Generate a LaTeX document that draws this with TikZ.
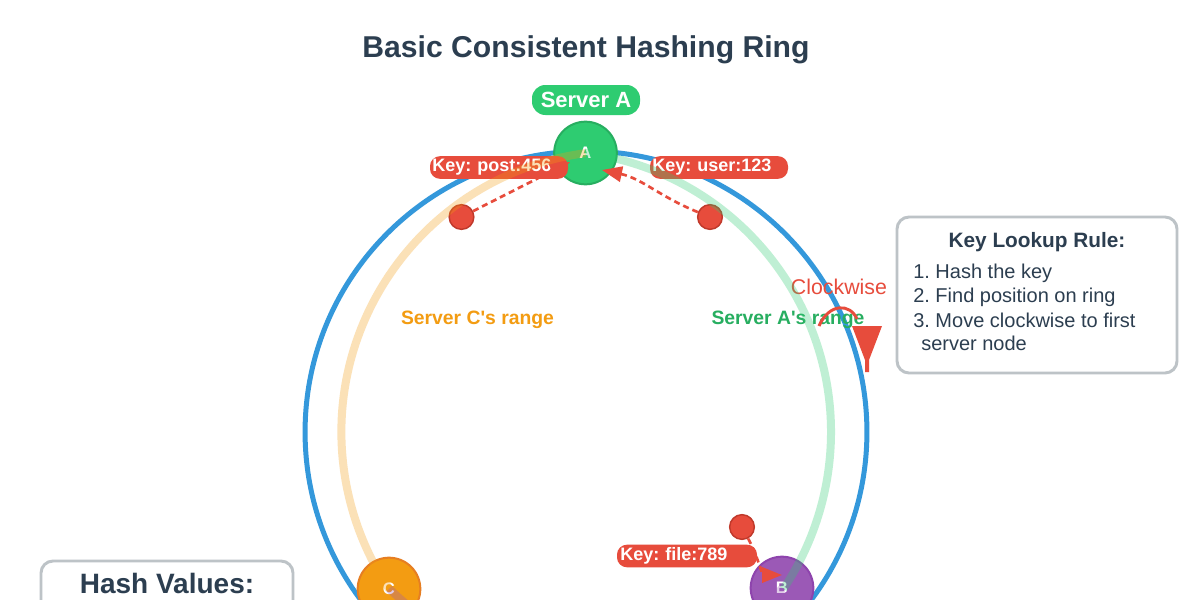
\documentclass[tikz,border=0pt]{standalone}
\usepackage{fontspec}
\setmainfont{Liberation Sans}
\usetikzlibrary{arrows.meta,calc}
\definecolor{ringblue}{HTML}{3498DB}
\definecolor{sgreen}{HTML}{2ECC71}
\definecolor{sgreend}{HTML}{27AE60}
\definecolor{spurple}{HTML}{9B59B6}
\definecolor{spurpled}{HTML}{8E44AD}
\definecolor{sorange}{HTML}{F39C12}
\definecolor{sorangedk}{HTML}{E67E22}
\definecolor{kred}{HTML}{E74C3C}
\definecolor{kredd}{HTML}{C0392B}
\definecolor{ink}{HTML}{2C3E50}
\definecolor{boxgray}{HTML}{BDC3C7}
\frenchspacing
\tikzset{
  server/.style={circle, minimum size=47pt, inner sep=0pt, line width=1.5pt, text=white,
    font=\bfseries\fontsize{12.5}{14}\selectfont},
  keydot/.style={circle, minimum size=18.5pt, inner sep=0pt, fill=kred, draw=kredd, line width=1.1pt},
  keypill/.style={rectangle, rounded corners=7.5pt, fill=kred, minimum height=17pt,
    text width=100pt, inner xsep=1.5pt, inner ysep=0pt, align=left, text=white,
    font=\bfseries\fontsize{13.5}{15}\selectfont},
  keyarrow/.style={draw=kred, line width=2pt, dash pattern=on 4.5pt off 3pt,
    -{Triangle[length=15pt,width=11.5pt]}},
  rangearc/.style={line width=6pt, draw opacity=0.3},
  infobox/.style={rectangle, rounded corners=9pt, draw=boxgray, line width=2.2pt, fill=white},
  listtext/.style={anchor=west, inner sep=0pt, text=ink, font=\fontsize{15}{17}\selectfont},
  rangelabel/.style={font=\bfseries\fontsize{14.5}{16}\selectfont},
}
\begin{document}
\begin{tikzpicture}[x=0.75pt,y=-0.75pt]
\useasboundingbox (0,0) rectangle (1200,600);
\clip (0,0) rectangle (1200,600);
\fill[white] (0,0) rectangle (1200,600);

% title
\node[text=ink, font=\bfseries\fontsize{22.6}{27}\selectfont] (title) at (586,50) {Basic Consistent Hashing Ring};

% ring
\draw[ringblue, line width=3.75pt] (586,432) circle[radius=210.7pt];

% servers
\node[server, fill=sgreen, draw=sgreend] (A) at (585.5,153) {A};
\node[server, fill=spurple, draw=spurpled] (B) at (782,588) {B};
\node[server, fill=sorange, draw=sorangedk] (C) at (389,589) {C};
\node[rectangle, rounded corners=10pt, fill=sgreen, minimum width=81pt, minimum height=22.5pt,
  inner sep=0pt, text=white, font=\bfseries\fontsize{16.5}{19}\selectfont] (labA) at (586,100) {Server A};

% key dots
\node[keydot] (k1) at (461.5,217) {};
\node[keydot] (k2) at (710,217) {};
\node[keydot] (k3) at (742,527) {};

% key labels
\node[keypill, minimum width=103.5pt] (p1) at (499,167.5) {Key: post:456};
\node[keypill, minimum width=103.5pt] (p2) at (719,167.5) {Key: user:123};
\node[keypill, minimum width=105pt] (p3) at (687,556) {Key: file:789};

% key arrows
\coordinate (t1) at (570,162);
\coordinate (t2) at (602,170);
\coordinate (t3) at (782,575);
\draw[keyarrow] (k1) -- (t1);
\draw[keyarrow] (k2) to[out=158,in=-12] (t2);
\draw[keyarrow] (k3) to[out=-62,in=180] (t3);

% range labels
\node[rangelabel, text=sorange] (crange) at (477.5,320) {Server C\textquotesingle s range};
\node[rangelabel, text=sgreend] (arange) at (788,320) {Server A\textquotesingle s range};

% clockwise indicator
\node[text=kred, font=\fontsize{16}{19}\selectfont] (cw) at (839,287) {Clockwise};
\draw[kred, line width=2.2pt] (819,326) .. controls (829,303) and (850,303) .. (857,319);
\fill[kred] (852,326) -- (882,326) -- (869,360) -- (869,372) -- (865,372) -- (865,360) -- cycle;

% range arcs (translucent)
\draw[rangearc, sgreen] ($(549.4,432.2)+(82.6:211.2pt)$) arc[start angle=82.6, end angle=-33.8, radius=211.2pt];
\draw[rangearc, sorange] ($(623,432.2)+(97.65:211.2pt)$) arc[start angle=97.65, end angle=213.8, radius=211.2pt];
\draw[rangearc, spurple] ($(585.5,386.8)+(225.8:211.2pt)$) arc[start angle=225.8, end angle=314.3, radius=211.2pt];

% lookup box
\node[infobox, minimum width=210pt, minimum height=117pt] (lookup) at (1037,295) {};
\node[text=ink, font=\bfseries\fontsize{15.6}{18}\selectfont] (lkt) at (1037,242) {Key Lookup Rule:};
\node[listtext] (l1) at (913,273) {1. Hash the key};
\node[listtext] (l2) at (913,297) {2. Find position on ring};
\node[listtext] (l3) at (913,320) {3. Move clockwise to first};
\node[listtext] (l4) at (921,343) {server node};

% hash values box
\node[infobox, minimum width=189pt, minimum height=120pt] (hash) at (167,641) {};
\node[text=ink, font=\bfseries\fontsize{21}{25}\selectfont] (hasht) at (167,583) {Hash Values:};
\end{tikzpicture}
\end{document}
